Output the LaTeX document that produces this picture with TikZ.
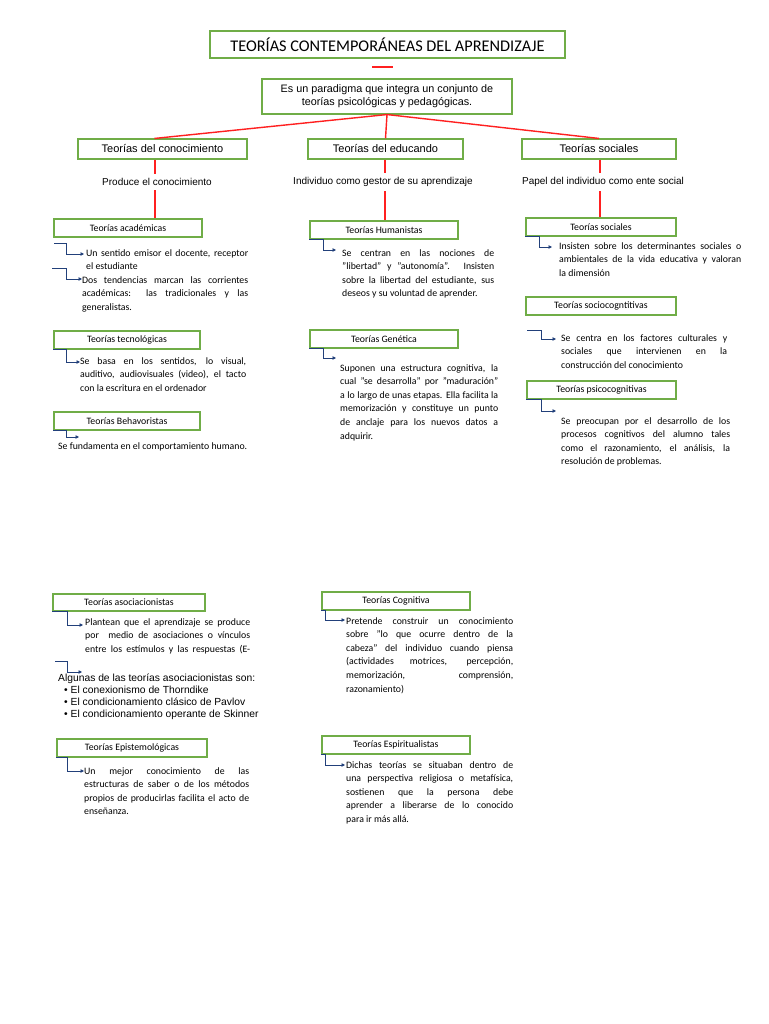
\documentclass[tikz,border=0pt]{standalone}
\usepackage{fontspec}
\setmainfont{Carlito}
\newfontfamily\arial{Liberation Sans}
\usetikzlibrary{arrows.meta}
\definecolor{boxgreen}{HTML}{70AD47}
\definecolor{navyc}{HTML}{22407A}
\definecolor{redc}{HTML}{FF2020}
\newcommand\J[2]{\makebox[#1pt][s]{#2}}
\tikzset{
  gbox/.style={draw=boxgreen, line width=1.1pt, fill=white, inner sep=0pt},
  sbox/.style={gbox, minimum height=18, font=\fontsize{9.8}{11}\selectfont},
  mbox/.style={gbox, minimum height=20, font=\arial\fontsize{11}{12}\selectfont},
  lab/.style={inner xsep=2pt, inner ysep=4.5pt, font=\arial\fontsize{10}{11}\selectfont},
  body/.style={anchor=base west, inner sep=0pt, align=left, font=\fontsize{9.8}{13.6}\selectfont},
  redl/.style={draw=redc, line width=1.4pt},
  arr/.style={draw=navyc, line width=0.9pt, -{Triangle[length=3.5pt,width=3.5pt]}}
}
\begin{document}
\begin{tikzpicture}[x=1pt,y=-1pt]
\fill[white] (0,0) rectangle (768,1024);
\useasboundingbox (0,0) rectangle (768,1024);

% title and intro
\node[gbox, line width=1.4pt, minimum width=355, minimum height=27, font=\fontsize{16.3}{18}\selectfont] (title) at (387.5,44.5) {TEORÍAS CONTEMPORÁNEAS DEL APRENDIZAJE};
\coordinate (s1) at (372,67);
\coordinate (s2) at (393,67);
\draw[redl, line width=2.4pt] (s1) -- (s2);
\node[gbox, minimum width=250, minimum height=35, align=center, font=\arial\fontsize{10.8}{13}\selectfont] (para) at (387,96.5) {Es un paradigma que integra un conjunto de\\teorías psicológicas y pedagógicas.};

% main branches
\node[mbox, minimum width=169] (conoc) at (162.5,149) {Teorías del conocimiento};
\node[mbox, minimum width=155] (educ) at (385.5,149) {Teorías del educando};
\node[mbox, minimum width=154] (soc) at (599,149) {Teorías sociales};

\draw[redl] (para.south) -- ([xshift=-8]conoc.north);
\draw[redl] (para.south) -- (educ.north);
\draw[redl] (para.south) -- (soc.north);

\node[lab] (lab1) at (157,182) {Produce el conocimiento};
\node[lab] (lab2) at (383,182) {Individuo como gestor de su aprendizaje};
\node[lab] (lab3) at (603,182) {Papel del individuo como ente social};

\coordinate (c1) at (155,0);
\coordinate (c2) at (385,0);
\coordinate (c3) at (600,0);

% sub boxes
\node[sbox, minimum width=148] (acad) at (128,228) {Teorías académicas};
\node[sbox, minimum width=146] (tecno) at (127,340) {Teorías tecnológicas};
\node[sbox, minimum width=146] (behav) at (127,421) {Teorías Behavoristas};
\node[sbox, minimum width=148] (human) at (384,230) {Teorías Humanistas};
\node[sbox, minimum width=148] (genet) at (384,339) {Teorías Genética};
\node[sbox, minimum width=150] (socs) at (601,227) {Teorías sociales};
\node[sbox, minimum width=150] (sociocog) at (601,306) {Teorías sociocogntitivas};
\node[sbox, minimum width=149] (psico) at (601.5,390) {Teorías psicocognitivas};
\node[sbox, minimum width=152, minimum height=17] (asoc) at (129,602.5) {Teorías asociacionistas};
\node[sbox, minimum width=150] (epist) at (132,748) {Teorías Epistemológicas};
\node[sbox, minimum width=148] (cogn) at (396,601) {Teorías Cognitiva};
\node[sbox, minimum width=148] (espir) at (396,745) {Teorías Espiritualistas};

\draw[redl] (conoc.south -| c1) -- (lab1.north -| c1);
\draw[redl] (lab1.south -| c1) -- (acad.north -| c1);
\draw[redl] (educ.south -| c2) -- (lab2.north -| c2);
\draw[redl] (lab2.south -| c2) -- (human.north -| c2);
\draw[redl] (soc.south -| c3) -- (lab3.north -| c3);
\draw[redl] (lab3.south -| c3) -- (socs.north -| c3);

% body texts (anchored at the baseline of their last line)
\node[body] (t1) at (86,269.6) {\J{162}{Un sentido emisor el docente, receptor}\\el estudiante};
\node[body] (t2) at (82,310.2) {\J{166}{Dos tendencias marcan las corrientes}\\\J{166}{académicas: las tradicionales y las}\\generalistas.};
\node[body] (t3) at (80,391.2) {\J{166}{Se basa en los sentidos, lo visual,}\\\J{166}{auditivo, audiovisuales (video), el tacto}\\con la escritura en el ordenador};
\node[body] (t4) at (58,449) {Se fundamenta en el comportamiento humano.};
\node[body] (t5) at (342,296.8) {\J{152}{Se centran en las nociones de}\\\J{152}{"libertad" y "autonomía". Insisten}\\\J{152}{sobre la libertad del estudiante, sus}\\deseos y su voluntad de aprender.};
\node[body] (t6) at (340,439) {\J{158}{Suponen una estructura cognitiva, la}\\\J{158}{cual "se desarrolla" por "maduración"}\\\J{158}{a lo largo de unas etapas. Ella facilita la}\\\J{158}{memorización y constituye un punto}\\\J{158}{de anclaje para los nuevos datos a}\\adquirir.};
\node[body] (t7) at (559,276.2) {\J{182}{Insisten sobre los determinantes sociales o}\\\J{182}{ambientales de la vida educativa y valoran}\\la dimensión};
\node[body] (t8) at (561,368.2) {\J{166}{Se centra en los factores culturales y}\\\J{166}{sociales que intervienen en la}\\construcción del conocimiento};
\node[body] (t9) at (561,464.8) {\J{169}{Se preocupan por el desarrollo de los}\\\J{169}{procesos cognitivos del alumno tales}\\\J{169}{como el razonamiento, el análisis, la}\\resolución de problemas.};
\node[body] (t10) at (85,652.2) {\J{165}{Plantean que el aprendizaje se produce}\\\J{165}{por \ medio de asociaciones o vínculos}\\\J{165}{entre los estímulos y las respuestas (E-}};
\node[body, font=\arial\fontsize{10.3}{12}\selectfont] (t11) at (58,717) {Algunas de las teorías asociacionistas son:\\\hspace*{6pt}• El conexionismo de Thorndike\\\hspace*{6pt}• El condicionamiento clásico de Pavlov\\\hspace*{6pt}• El condicionamiento operante de Skinner};
\node[body] (t12) at (84,814.8) {\J{165}{Un mejor conocimiento de las}\\\J{165}{estructuras de saber o de los métodos}\\\J{165}{propios de producirlas facilita el acto de}\\enseñanza.};
\node[body] (t13) at (346,692) {\J{167}{Pretende construir un conocimiento}\\\J{167}{sobre "lo que ocurre dentro de la}\\\J{167}{cabeza" del individuo cuando piensa}\\\J{167}{(actividades motrices, percepción,}\\\J{167}{memorización, comprensión,}\\razonamiento)};
\node[body] (t14) at (346,822.4) {\J{167}{Dichas teorías se situaban dentro de}\\\J{167}{una perspectiva religiosa o metafísica,}\\\J{167}{sostienen que la persona debe}\\\J{167}{aprender a liberarse de lo conocido}\\para ir más allá.};

% arrows
\coordinate (a1s) at (54,243);   \coordinate (a1) at (84,254);
\coordinate (a2s) at (52,268);   \coordinate (a2) at (82,279);
\coordinate (a3) at (80,362);
\coordinate (a4) at (79,437);
\coordinate (a5) at (336,250);
\coordinate (a6) at (336,358);
\coordinate (a7) at (552,247);
\coordinate (a8s) at (527,330);  \coordinate (a8) at (556,339);
\coordinate (a9) at (556,411);
\coordinate (a10) at (83,625);
\coordinate (a11s) at (55,661);  \coordinate (a11) at (82,672);
\coordinate (a12) at (84,771);
\coordinate (a13) at (345,620);
\coordinate (a14) at (345,765);

\draw[arr] (a1s) -| ([xshift=-18]a1) -- (a1);
\draw[arr] (a2s) -| ([xshift=-16]a2) -- (a2);
\draw[arr] (tecno.south west) -| ([xshift=-14]a3) -- (a3);
\draw[arr] (behav.south west) -| ([xshift=-13]a4) -- (a4);
\draw[arr] (human.south west) -| ([xshift=-13]a5) -- (a5);
\draw[arr] (genet.south west) -| ([xshift=-13]a6) -- (a6);
\draw[arr] (socs.south west) -| ([xshift=-13]a7) -- (a7);
\draw[arr] (a8s) -| ([xshift=-15]a8) -- (a8);
\draw[arr] (psico.south west) -| ([xshift=-15]a9) -- (a9);
\draw[arr] (asoc.south west) -| ([xshift=-16]a10) -- (a10);
\draw[arr] (a11s) -| ([xshift=-15]a11) -- (a11);
\draw[arr] (epist.south west) -| ([xshift=-17]a12) -- (a12);
\draw[arr] (cogn.south west) -| ([xshift=-20]a13) -- (a13);
\draw[arr] (espir.south west) -| ([xshift=-20]a14) -- (a14);
\end{tikzpicture}
\end{document}
